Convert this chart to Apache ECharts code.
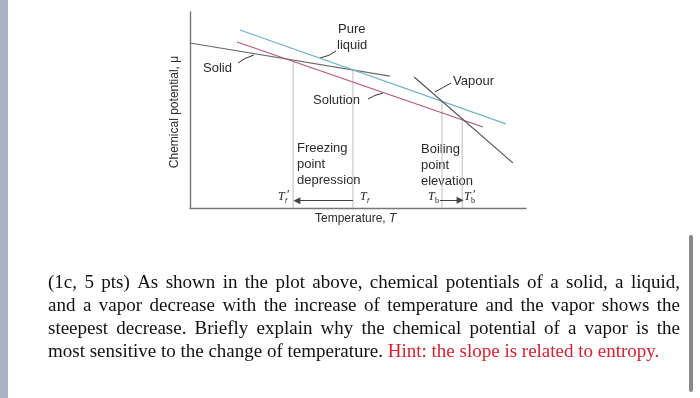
<!DOCTYPE html>
<html><head><meta charset="utf-8">
<script src="https://cdn.jsdelivr.net/npm/echarts@6/dist/echarts.min.js"></script>
<style>html,body{margin:0;padding:0;background:#fff}#c{width:700px;height:398px}</style>
</head><body><div id="c"></div>
<script>
// Schematic units: x = temperature (0-100), y = chemical potential (0-100)
const solidLine = [[0, 84.2], [59.5, 67.3]];
const pureLiquidLine = [[14.9, 90.8], [94.0, 42.9]];
const solutionLine = [[14.0, 84.7], [87.2, 41.3]];
const vapourLine = [[66.7, 66.8], [96.1, 23.0]];
const markTemps = [30.7, 48.5, 75.0, 81.0];   // Tf', Tf, Tb, Tb'
const markTops = [75.0, 70.4, 54.1, 45.4];
const freezingArrow = [[48.5, 3.7], [31.8, 3.7]];
const boilingArrow = [[74.4, 4.0], [80.4, 4.0]];

const paraLines = [
  "(1c, 5 pts) As shown in the plot above, chemical potentials of a solid, a liquid,",
  "and a vapor decrease with the increase of temperature and the vapor shows the",
  "steepest decrease. Briefly explain why the chemical potential of a vapor is the",
  "most sensitive to the change of temperature."
];
const hintText = "Hint: the slope is related to entropy.";

const chart = echarts.init(document.getElementById('c'), null, {renderer: 'canvas'});

const SANS = "'Liberation Sans', Arial, sans-serif";
const SERIF = "'Liberation Serif', 'Times New Roman', serif";
const txt = (text, x, y, opts) => Object.assign({
  type: 'text', silent: true,
  style: Object.assign({text, x, y, font: '13px ' + SANS, fill: '#2b2b2b', textVerticalAlign: 'middle'}, opts || {})
});

// paragraph layout (justified)
const ctx = document.createElement('canvas').getContext('2d');
const fs = 19;
const font = fs + 'px ' + SERIF;
ctx.font = font;
const paraX0 = 48, paraX1 = 680, paraY = [283, 306, 329, 352];
const paraEls = [];
paraLines.forEach((line, i) => {
  const words = line.split(' ');
  const ws = words.map(w => ctx.measureText(w).width);
  const sum = ws.reduce((a, b) => a + b, 0);
  const justify = i < 3;
  const gap = justify ? (paraX1 - paraX0 - sum) / (words.length - 1) : ctx.measureText(' ').width;
  let x = paraX0;
  words.forEach((w, k) => {
    paraEls.push(txt(w, x, paraY[i], {font, fill: '#111'}));
    x += ws[k] + gap;
  });
  if (i === 3) {
    paraEls.push(txt(hintText, x, paraY[i], {font, fill: '#d4232e'}));
  }
});

const gray = '#bdbdbd';
const series = [
  {type: 'line', data: solidLine, symbol: 'none', lineStyle: {color: '#6a6a6a', width: 1.2}},
  {type: 'line', data: pureLiquidLine, symbol: 'none', lineStyle: {color: '#6fb1cb', width: 1.2}},
  {type: 'line', data: solutionLine, symbol: 'none', lineStyle: {color: '#b5567f', width: 1.2}},
  {type: 'line', data: vapourLine, symbol: 'none', lineStyle: {color: '#555', width: 1.2}},
].concat(markTemps.map((t, i) => ({
  type: 'line', data: [[t, 0], [t, markTops[i]]], symbol: 'none', z: 1,
  lineStyle: {color: gray, width: 1}
}))).concat([{
  type: 'lines', coordinateSystem: 'cartesian2d', z: 5,
  symbol: ['none', 'triangle'], symbolSize: 7,
  lineStyle: {color: '#444', width: 1, opacity: 1},
  itemStyle: {color: '#111'},
  data: [{coords: freezingArrow}, {coords: boilingArrow}]
}]);

const leader = (x1, y1, cx, cy, x2, y2) => ({
  type: 'bezierCurve', silent: true,
  shape: {x1, y1, x2, y2, cpx1: cx, cpy1: cy},
  style: {stroke: '#333', lineWidth: 1, fill: null}
});

const sub = (x, y, s, prime) => [
  txt('T', x, y, {font: 'italic 12px ' + SERIF, fill: '#222'}),
  txt(s, x + 7, y + 4, {font: (s === 'b' ? '8px ' + SERIF : 'italic 7px ' + SANS), fill: '#222'}),
].concat(prime ? [txt('\u2032', x + 9, y - 2, {font: '12px ' + SERIF, fill: '#222'})] : []);

chart.setOption({
  animation: false,
  grid: {left: 190, top: 12, width: 336, height: 196},
  xAxis: {type: 'value', min: 0, max: 100, axisLine: {show: true, lineStyle: {color: '#777', width: 1.4}},
    axisTick: {show: false}, axisLabel: {show: false}, splitLine: {show: false}},
  yAxis: {type: 'value', min: 0, max: 100, axisLine: {show: true, lineStyle: {color: '#777', width: 1.4}},
    axisTick: {show: false}, axisLabel: {show: false}, splitLine: {show: false}},
  series,
  graphic: [
    {type: 'rect', silent: true, shape: {x: 0, y: 0, width: 8, height: 398}, style: {fill: '#abb2c1'}},
    {type: 'rect', silent: true, shape: {x: 689, y: 235, width: 4, height: 157, r: 2}, style: {fill: '#888'}},
    txt('Pure', 338, 29),
    txt('liquid', 337, 45),
    leader(336, 51, 330, 56, 320, 58),
    txt('Solid', 203, 68),
    leader(238, 63, 244, 58, 254, 55),
    txt('Solution', 313, 100),
    leader(368, 99, 374, 95, 383, 93),
    txt('Vapour', 453, 81),
    leader(451, 83, 444, 87, 435, 92),
    txt('Freezing', 297, 148), txt('point', 297, 164), txt('depression', 297, 180),
    txt('Boiling', 421, 149), txt('point', 421, 165), txt('elevation', 421, 181),
    {type: 'text', silent: true, style: {text: '{a|Temperature, }{b|T}', x: 315, y: 219,
      textVerticalAlign: 'middle', fill: '#2b2b2b',
      rich: {a: {font: '12px ' + SANS, fill: '#2b2b2b'}, b: {font: 'italic 12px ' + SANS, fill: '#2b2b2b'}}}},
    {type: 'text', silent: true, rotation: Math.PI / 2, x: 175, y: 112,
      style: {text: 'Chemical potential, \u03bc', x: 0, y: 0, font: '12px ' + SANS, fill: '#2b2b2b',
        textAlign: 'center', textVerticalAlign: 'middle'}},
  ].concat(sub(278, 197, 'f', true), sub(360, 197, 'f', false), sub(428, 197, 'b', false), sub(464, 197, 'b', true), paraEls)
});
</script></body></html>
